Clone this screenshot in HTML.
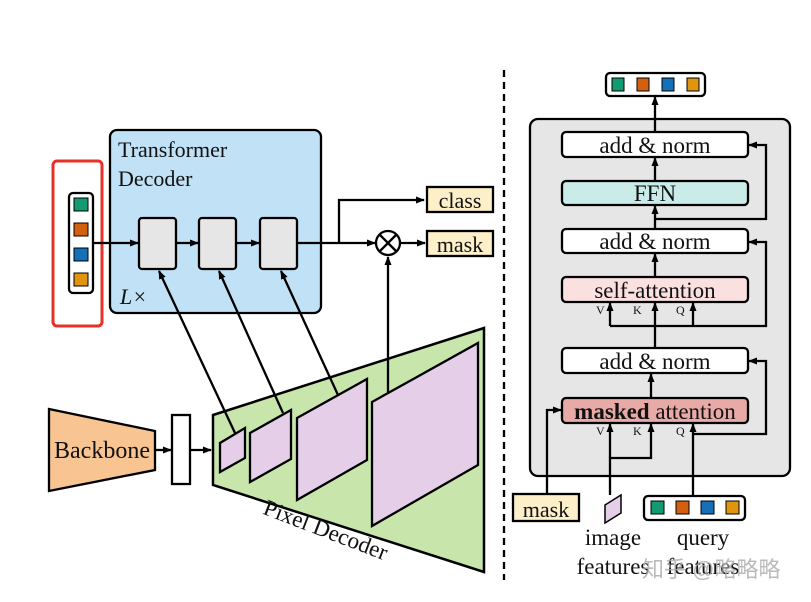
<!DOCTYPE html>
<html><head><meta charset="utf-8"><style>
html,body{margin:0;padding:0;background:#fff;}
svg{display:block;}
text{font-family:"Liberation Serif","Noto Serif CJK SC",serif;fill:#111;}
</style></head><body>
<svg width="811" height="602" viewBox="0 0 811 602" xmlns="http://www.w3.org/2000/svg">
<defs>
<marker id="a" markerWidth="9" markerHeight="8" refX="8" refY="4" orient="auto" markerUnits="userSpaceOnUse">
<path d="M0,0.5 L9,4 L0,7.5 Z" fill="#000"/></marker>
</defs>
<g stroke="#000" stroke-width="2.3">
<rect x="110" y="130" width="211" height="183" rx="7" fill="#c1e2f6"/>
<rect x="53" y="161" width="49" height="165" rx="4" fill="none" stroke="#e8302a" stroke-width="3"/>
<rect x="69" y="193" width="24" height="100" rx="4" fill="#fff"/>
<rect x="74" y="198" width="14" height="13" fill="#129a72" stroke-width="1"/>
<rect x="74" y="223" width="14" height="13" fill="#d3600e" stroke-width="1"/>
<rect x="74" y="248" width="14" height="13" fill="#1570b8" stroke-width="1"/>
<rect x="74" y="273" width="14" height="13" fill="#e1940f" stroke-width="1"/>
<line x1="93" y1="243" x2="138" y2="243" marker-end="url(#a)"/>
<rect x="139" y="218" width="37" height="51" rx="3" fill="#e6e6e6"/>
<rect x="199" y="218" width="37" height="51" rx="3" fill="#e6e6e6"/>
<rect x="260" y="218" width="37" height="51" rx="3" fill="#e6e6e6"/>
<line x1="176" y1="243" x2="198" y2="243" marker-end="url(#a)"/>
<line x1="236" y1="243" x2="259" y2="243" marker-end="url(#a)"/>
<line x1="297" y1="243" x2="375" y2="243" marker-end="url(#a)"/>
<polyline points="339,243 339,200 424,200" fill="none" marker-end="url(#a)"/>
<circle cx="388" cy="243" r="12" fill="#fff"/>
<line x1="380" y1="235" x2="396" y2="251"/><line x1="396" y1="235" x2="380" y2="251"/>
<line x1="400" y1="243" x2="425" y2="243" marker-end="url(#a)"/>
<rect x="427" y="187" width="66" height="25" fill="#fdf0c8"/>
<rect x="427" y="231" width="66" height="25" fill="#fdf0c8"/>
<polygon points="49,409 155,431 155,470 49,491" fill="#f8c592"/>
<rect x="172" y="415" width="18" height="69" fill="#fff"/>
<line x1="155" y1="450" x2="171" y2="450" marker-end="url(#a)"/>
<line x1="190" y1="450" x2="211" y2="450" marker-end="url(#a)"/>
<polygon points="213,415 484,328 484,572 213,485" fill="#c8e6ac" stroke-width="2.5"/>
<polygon points="220,443 245,428 245,458 220,472" fill="#e5cfe8"/>
<polygon points="250,433 291,410 291,459 250,482" fill="#e5cfe8"/>
<polygon points="297,418 367,379 367,460 297,500" fill="#e5cfe8"/>
<polygon points="372,402 478,343 478,465 372,526" fill="#e5cfe8"/>
<line x1="235" y1="433" x2="159" y2="271" marker-end="url(#a)"/>
<line x1="283" y1="413" x2="219" y2="271" marker-end="url(#a)"/>
<line x1="338" y1="395" x2="281" y2="271" marker-end="url(#a)"/>
<line x1="388" y1="392" x2="388" y2="257" marker-end="url(#a)"/>
<line x1="504" y1="70" x2="504" y2="580" stroke-dasharray="7,5"/>
<rect x="530" y="119" width="260" height="357" rx="8" fill="#e6e6e6"/>
<rect x="606" y="73" width="99" height="23" rx="4" fill="#fff"/>
<rect x="612" y="78" width="12" height="13" fill="#129a72" stroke-width="1"/>
<rect x="637" y="78" width="12" height="13" fill="#d3600e" stroke-width="1"/>
<rect x="662" y="78" width="12" height="13" fill="#1570b8" stroke-width="1"/>
<rect x="687" y="78" width="12" height="13" fill="#e1940f" stroke-width="1"/>
<line x1="655" y1="132" x2="655" y2="97" marker-end="url(#a)"/>
<rect x="562" y="132" width="186" height="25" rx="4" fill="#fff"/>
<rect x="562" y="181" width="186" height="24" rx="4" fill="#c9ece8"/>
<rect x="562" y="229" width="186" height="24" rx="4" fill="#fff"/>
<rect x="562" y="277" width="186" height="25" rx="4" fill="#fbe0e0"/>
<rect x="562" y="348" width="186" height="25" rx="4" fill="#fff"/>
<rect x="562" y="398" width="186" height="25" rx="4" fill="#e8aaa6"/>
<line x1="655" y1="181" x2="655" y2="158" marker-end="url(#a)"/>
<line x1="655" y1="229" x2="655" y2="206" marker-end="url(#a)"/>
<line x1="655" y1="277" x2="655" y2="254" marker-end="url(#a)"/>
<polyline points="655,219 766,219 766,145 749,145" fill="none" marker-end="url(#a)"/>
<line x1="655" y1="348" x2="655" y2="303" marker-end="url(#a)"/>
<polyline points="610,326 610,303" fill="none" marker-end="url(#a)"/>
<polyline points="610,326 766,326 766,242 749,242" fill="none" marker-end="url(#a)"/>
<line x1="693" y1="326" x2="693" y2="303" marker-end="url(#a)"/>
<line x1="651" y1="398" x2="651" y2="374" marker-end="url(#a)"/>
<polyline points="610,495 610,458 651,458 651,424" fill="none" marker-end="url(#a)"/>
<line x1="610" y1="458" x2="610" y2="424" marker-end="url(#a)"/>
<line x1="693" y1="496" x2="693" y2="424" marker-end="url(#a)"/>
<polyline points="693,434 766,434 766,361 749,361" fill="none" marker-end="url(#a)"/>
<polyline points="547,494 547,410 561,410" fill="none" marker-end="url(#a)"/>
<rect x="513" y="494" width="66" height="27" fill="#fdf0c8"/>
<polygon points="605,505 621,495 621,513 605,523" fill="#e5cfe8" stroke-width="1.5"/>
<rect x="644" y="496" width="101" height="24" rx="4" fill="#fff"/>
<rect x="651" y="501" width="13" height="13" fill="#129a72" stroke-width="1"/>
<rect x="676" y="501" width="13" height="13" fill="#d3600e" stroke-width="1"/>
<rect x="701" y="501" width="13" height="13" fill="#1570b8" stroke-width="1"/>
<rect x="726" y="501" width="13" height="13" fill="#e1940f" stroke-width="1"/>
</g>
<g font-size="22">
<text x="118" y="157">Transformer</text>
<text x="118" y="186">Decoder</text>
<text x="120" y="304" font-style="italic">L×</text>
<text x="460" y="208" text-anchor="middle">class</text>
<text x="460" y="252" text-anchor="middle">mask</text>
<text x="102" y="458" text-anchor="middle" font-size="24">Backbone</text>
<text transform="translate(323,537) rotate(21)" text-anchor="middle" font-size="23">Pixel Decoder</text>
<text x="655" y="153" text-anchor="middle" font-size="23">add &amp; norm</text>
<text x="655" y="201" text-anchor="middle" font-size="23">FFN</text>
<text x="655" y="249" text-anchor="middle" font-size="23">add &amp; norm</text>
<text x="655" y="298" text-anchor="middle" font-size="23">self-attention</text>
<text x="655" y="369" text-anchor="middle" font-size="23">add &amp; norm</text>
<text x="655" y="419" text-anchor="middle" font-size="23"><tspan font-weight="bold">masked</tspan> attention</text>
<text x="546" y="517" text-anchor="middle">mask</text>
<text x="613" y="545" text-anchor="middle" font-size="23">image</text>
<text x="613" y="574" text-anchor="middle" font-size="23">features</text>
<text x="703" y="545" text-anchor="middle" font-size="23">query</text>
<text x="703" y="574" text-anchor="middle" font-size="23">features</text>
</g>
<g font-size="12">
<text x="596" y="314">V</text><text x="633" y="314">K</text><text x="676" y="314">Q</text>
<text x="596" y="435">V</text><text x="633" y="435">K</text><text x="676" y="435">Q</text>
</g>
<text x="642" y="577" font-size="22" style="fill:#aaa;opacity:0.8;font-family:'Liberation Sans','Noto Sans CJK SC',sans-serif">知乎 @略略略</text>
</svg>
</body></html>
